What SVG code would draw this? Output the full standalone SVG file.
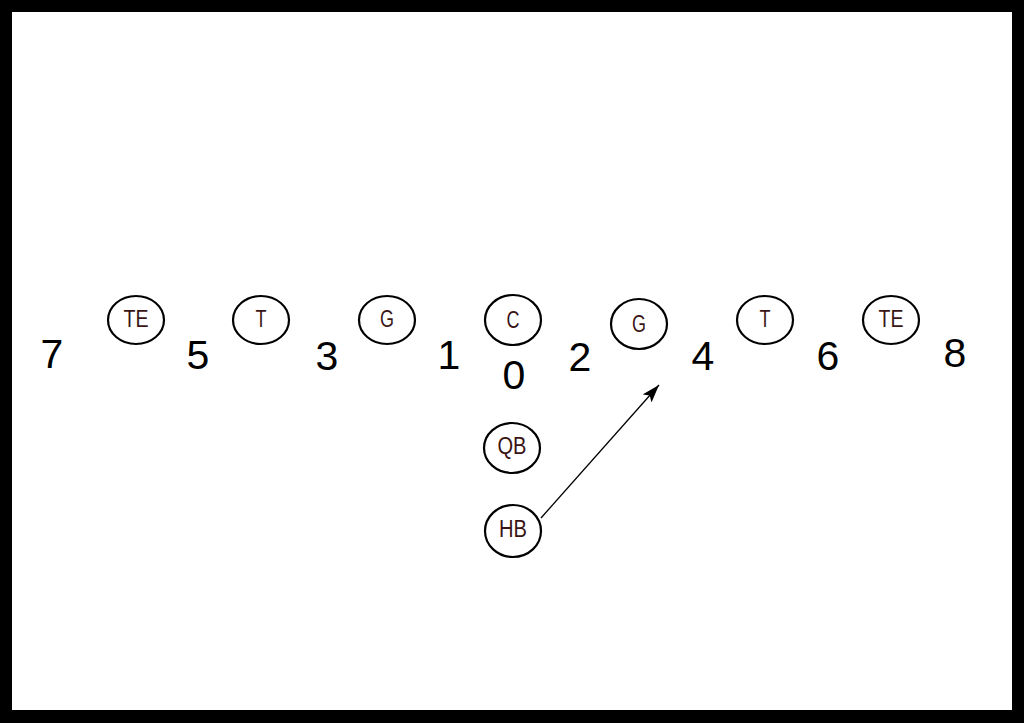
<svg xmlns="http://www.w3.org/2000/svg" width="1024" height="723" viewBox="0 0 1024 723">
<style>
.pos ellipse{fill:#fff;stroke:#000;stroke-width:2.2}
.pos text{font-family:"Liberation Sans",Arial,sans-serif;font-size:23px;fill:#3a1414;text-anchor:middle}
.num{font-family:"Liberation Sans",Arial,sans-serif;font-size:41px;fill:#000;text-anchor:middle}
.conn{stroke:#000;stroke-width:1.3;fill:none}
</style>
<defs>
<marker id="ah" viewBox="0 0 18 12" refX="18" refY="6" markerWidth="18" markerHeight="12" markerUnits="userSpaceOnUse" orient="auto">
<path d="M0,0 L18,6 L0,12 L4,6 Z" fill="#000"/>
</marker>
</defs>
<rect x="0" y="0" width="1024" height="723" fill="#000"/>
<rect x="12" y="12" width="1000" height="698" fill="#fff"/>
<g id="holes">
<text class="num" x="52" y="368">7</text>
<text class="num" x="198" y="369">5</text>
<text class="num" x="327" y="370">3</text>
<text class="num" x="449" y="369">1</text>
<text class="num" x="514" y="389">0</text>
<text class="num" x="580" y="371">2</text>
<text class="num" x="703" y="370">4</text>
<text class="num" x="828" y="370">6</text>
<text class="num" x="955" y="367">8</text>
</g>
<g id="connectors">
<line class="conn" x1="541" y1="518" x2="659" y2="385" marker-end="url(#ah)"/>
</g>
<g id="te-left" class="pos"><ellipse cx="136" cy="320" rx="28" ry="24"/><text x="136" y="327" textLength="25" lengthAdjust="spacingAndGlyphs">TE</text></g>
<g id="t-left" class="pos"><ellipse cx="261" cy="320" rx="28" ry="24"/><text x="261" y="327" textLength="11" lengthAdjust="spacingAndGlyphs">T</text></g>
<g id="g-left" class="pos"><ellipse cx="387" cy="320" rx="28" ry="24"/><text x="387" y="327" textLength="14" lengthAdjust="spacingAndGlyphs">G</text></g>
<g id="c" class="pos"><ellipse cx="513" cy="320" rx="28" ry="25"/><text x="513" y="328" textLength="13" lengthAdjust="spacingAndGlyphs">C</text></g>
<g id="g-right" class="pos"><ellipse cx="639" cy="324" rx="28" ry="25"/><text x="639" y="332" textLength="14" lengthAdjust="spacingAndGlyphs">G</text></g>
<g id="t-right" class="pos"><ellipse cx="765" cy="320" rx="28" ry="24"/><text x="765" y="327" textLength="11" lengthAdjust="spacingAndGlyphs">T</text></g>
<g id="te-right" class="pos"><ellipse cx="891" cy="320" rx="28" ry="24"/><text x="891" y="327" textLength="25" lengthAdjust="spacingAndGlyphs">TE</text></g>
<g id="qb" class="pos"><ellipse cx="512" cy="448" rx="28" ry="25"/><text x="512" y="454" textLength="29" lengthAdjust="spacingAndGlyphs">QB</text></g>
<g id="hb" class="pos"><ellipse cx="513" cy="531" rx="28" ry="26"/><text x="513" y="537" textLength="28" lengthAdjust="spacingAndGlyphs">HB</text></g>
</svg>
